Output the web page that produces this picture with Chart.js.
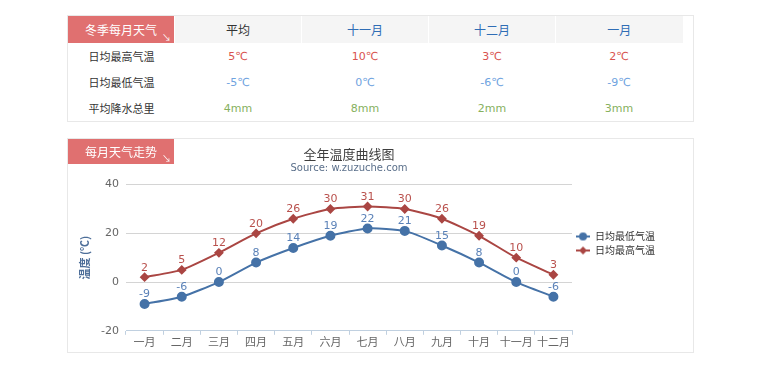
<!DOCTYPE html>
<html>
<head>
<meta charset="utf-8">
<script src="https://cdn.jsdelivr.net/npm/chart.js@4/dist/chart.umd.min.js"></script>
<style>
  body { margin: 0; background: #fff; font-family: "DejaVu Sans", "Noto Sans CJK SC", sans-serif; }
  .box { position: absolute; border: 1px solid #e8e8e8; box-sizing: border-box; background: #fff; }
  #winter { left: 67px; top: 15px; width: 627px; height: 107px; }
  #winter table { border-collapse: collapse; table-layout: fixed; width: 614px; font-size: 11px; }
  #winter th { height: 27px; padding: 0; font-weight: normal; font-size: 12px; background: #f5f5f5; border-left: 1px solid #fff; color: #2f6db5; font-family: "Noto Sans CJK SC", sans-serif; }
  #winter th.avg { color: #333; }
  #winter td { height: 26px; padding: 0; text-align: center; }
  #winter td.lbl { color: #333; font-family: "Noto Sans CJK SC", sans-serif; }
  .hi { color: #d9534f; }
  .lo { color: #6fa3e0; }
  .rain { color: #86b15e; }
  .tag { position: absolute; left: 0; top: 0; width: 106px; background: #e07070; color: #fff; font-size: 12px; text-align: center; font-family: "Noto Sans CJK SC", sans-serif; z-index: 2; }
  .tag span { position: absolute; right: 3px; bottom: 1px; font-size: 9px; line-height: 9px; }
  #winter .tag { height: 27px; line-height: 27px; }
  #trend { left: 67px; top: 138px; width: 627px; height: 215px; }
  #trend .tag { height: 25px; line-height: 25px; }
  #trend canvas { position: absolute; left: 0; top: 0; }
</style>
</head>
<body>
<div class="box" id="winter">
  <div class="tag">冬季每月天气<span>↘</span></div>
  <table>
    <colgroup><col style="width:106px"><col style="width:127px"><col style="width:127px"><col style="width:127px"><col style="width:127px"></colgroup>
    <tr><th style="background:#e07070"></th><th class="avg">平均</th><th>十一月</th><th>十二月</th><th>一月</th></tr>
    <tr><td class="lbl">日均最高气温</td><td class="hi">5℃</td><td class="hi">10℃</td><td class="hi">3℃</td><td class="hi">2℃</td></tr>
    <tr><td class="lbl">日均最低气温</td><td class="lo">-5℃</td><td class="lo">0℃</td><td class="lo">-6℃</td><td class="lo">-9℃</td></tr>
    <tr><td class="lbl">平均降水总里</td><td class="rain">4mm</td><td class="rain">8mm</td><td class="rain">2mm</td><td class="rain">3mm</td></tr>
  </table>
</div>

<div class="box" id="trend">
  <div class="tag">每月天气走势<span>↘</span></div>
  <canvas id="tempChart" width="625" height="213"></canvas>
</div>

<script>
"use strict";

const months = ["一月", "二月", "三月", "四月", "五月", "六月", "七月", "八月", "九月", "十月", "十一月", "十二月"];
const lowTemp = [-9, -6, 0, 8, 14, 19, 22, 21, 15, 8, 0, -6];
const highTemp = [2, 5, 12, 20, 26, 30, 31, 30, 26, 19, 10, 3];
const yTicks = [-20, 0, 20, 40];

const fontFamily = "'DejaVu Sans', 'Noto Sans CJK SC', sans-serif";
const cjkFont = "'Noto Sans CJK SC', sans-serif";

// legend symbol: short line with the marker in the middle
function legendSymbol(color, style) {
  const c = document.createElement("canvas");
  c.width = 14;
  c.height = 10;
  const g = c.getContext("2d");
  g.strokeStyle = color;
  g.lineWidth = 2;
  g.beginPath();
  g.moveTo(0, 5);
  g.lineTo(14, 5);
  g.stroke();
  g.fillStyle = color;
  g.beginPath();
  if (style === "circle") {
    g.arc(7, 5, 4, 0, Math.PI * 2);
  } else {
    g.moveTo(7, 1); g.lineTo(11, 5); g.lineTo(7, 9); g.lineTo(3, 5);
    g.closePath();
  }
  g.fill();
  return c;
}

// values above each point
var dataLabelPlugin = {
  id: "dataLabels",
  afterDatasetsDraw: function (chart) {
    var ctx = chart.ctx;
    ctx.save();
    chart.data.datasets.forEach(function (dataset, i) {
      var meta = chart.getDatasetMeta(i);
      if (meta.hidden) return;
      ctx.fillStyle = dataset.labelColor;
      ctx.font = "11px " + fontFamily;
      ctx.textAlign = "center";
      ctx.textBaseline = "bottom";
      meta.data.forEach(function (element, index) {
        ctx.fillText(String(dataset.data[index]), element.x, element.y - 4);
      });
    });
    ctx.restore();
  }
};

const blue = "#4572a7";
const red = "#aa4643";

new Chart(document.getElementById("tempChart"), {
  type: "line",
  data: {
    labels: months,
    datasets: [{
      label: "日均最低气温",
      data: lowTemp,
      borderColor: blue,
      backgroundColor: blue,
      labelColor: "#5b82b8",
      borderWidth: 2,
      pointStyle: "circle",
      pointRadius: 4,
      tension: 0.2,
      symbol: legendSymbol(blue, "circle")
    }, {
      label: "日均最高气温",
      data: highTemp,
      borderColor: red,
      backgroundColor: red,
      labelColor: "#b9514d",
      borderWidth: 2,
      pointStyle: "rectRot",
      pointRadius: 3.5,
      tension: 0.2,
      symbol: legendSymbol(red, "diamond")
    }]
  },
  options: {
    responsive: false,
    animation: false,
    layout: { padding: { top: 0, right: 28, bottom: 4, left: 0 } },
    plugins: {
      title: {
        display: true,
        text: "全年温度曲线图",
        color: "#3e3e3e",
        fullSize: false,
        font: { family: cjkFont, size: 13, weight: "normal" },
        padding: { top: 7, bottom: 0 }
      },
      subtitle: {
        display: true,
        text: "Source: w.zuzuche.com",
        color: "#5a6f8a",
        fullSize: false,
        font: { family: fontFamily, size: 10 },
        padding: { top: 1, bottom: 10 }
      },
      legend: {
        position: "right",
        labels: {
          usePointStyle: true,
          pointStyleWidth: 14,
          boxHeight: 10,
          padding: 4,
          color: "#333",
          font: { family: cjkFont, size: 10 },
          generateLabels: function (chart) {
            return chart.data.datasets.map(function (ds, i) {
              return { text: ds.label, pointStyle: ds.symbol, fontColor: "#333", datasetIndex: i, lineWidth: 0 };
            });
          }
        }
      },
      tooltip: { enabled: false }
    },
    scales: {
      x: {
        offset: true,
        grid: { display: true, drawOnChartArea: false, drawTicks: true, tickLength: 4, color: "#c0d0e0", offset: true },
        border: { color: "#c0d0e0", width: 1 },
        ticks: { color: "#666", font: { family: cjkFont, size: 11 }, padding: 0, maxRotation: 0, autoSkip: false }
      },
      y: {
        min: -20,
        max: 40,
        afterBuildTicks: function (scale) {
          scale.ticks = yTicks.map(function (v) { return { value: v }; });
        },
        afterFit: function (scale) { scale.width = 58; },
        grid: { color: "#d4d4d4", drawTicks: false },
        border: { display: false },
        ticks: { color: "#666", font: { family: fontFamily, size: 11 }, padding: 7 },
        title: {
          display: true,
          text: "温度 (℃)",
          color: "#4d6e99",
          font: { family: cjkFont, size: 11, weight: "bold" },
          padding: { top: 10, bottom: 0 }
        }
      }
    }
  },
  plugins: [dataLabelPlugin]
});
</script>
</body>
</html>
